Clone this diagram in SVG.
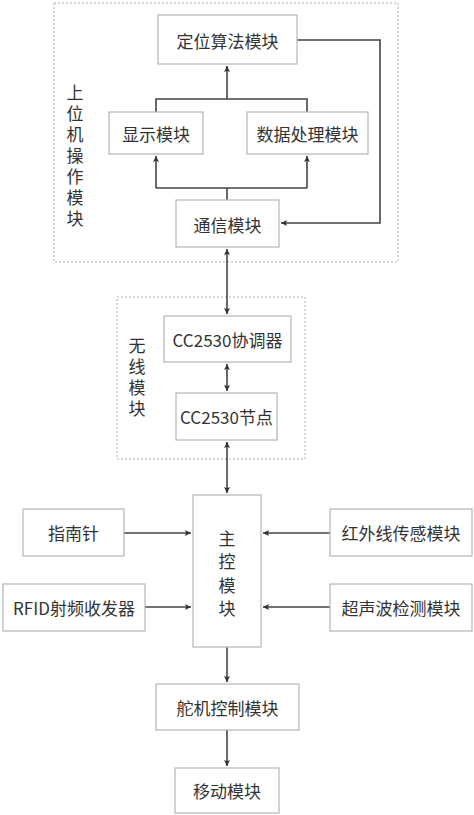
<svg xmlns="http://www.w3.org/2000/svg" width="474" height="815" viewBox="0 0 474 815">
<defs>
<style>
.box{fill:#fff;stroke:#b5b5b5;stroke-width:1.2}
.grp{fill:none;stroke:#b0b0b0;stroke-width:1;stroke-dasharray:2 2}
.ln{fill:none;stroke:#444;stroke-width:1.6}
text{font-family:"Noto Sans CJK SC","Liberation Sans",sans-serif;font-size:17px;fill:#333;text-anchor:middle;dominant-baseline:central}
.vt{writing-mode:vertical-rl;letter-spacing:4px}
</style>
<marker id="ah" viewBox="0 0 10 10" refX="10" refY="5" markerWidth="6" markerHeight="6" orient="auto-start-reverse" markerUnits="userSpaceOnUse">
<path d="M0,0 L10,5 L0,10 L2,5 z" fill="#333"/>
</marker>
</defs>
<rect width="474" height="815" fill="#fff"/>
<g id="group-upper">
<rect class="grp" x="54" y="3" width="344" height="259"/>
<text class="vt" x="75" y="158">上位机操作模块</text>
</g>
<g id="group-wireless">
<rect class="grp" x="117" y="297" width="188" height="162"/>
<text class="vt" x="137" y="379.5">无线模块</text>
</g>
<g id="connectors">
<path class="ln" d="M297,40 H380 V223 H281" marker-end="url(#ah)"/>
<path class="ln" d="M156,112 V99 H307 V112"/>
<path class="ln" d="M227,99 V66" marker-end="url(#ah)"/>
<path class="ln" d="M227,200 V188"/>
<path class="ln" d="M156,188 H307"/>
<path class="ln" d="M156,188 V156" marker-end="url(#ah)"/>
<path class="ln" d="M307,188 V156" marker-end="url(#ah)"/>
<path class="ln" d="M227,249 V314" marker-start="url(#ah)" marker-end="url(#ah)"/>
<path class="ln" d="M227,364 V391" marker-start="url(#ah)" marker-end="url(#ah)"/>
<path class="ln" d="M227,442 V493" marker-start="url(#ah)" marker-end="url(#ah)"/>
<path class="ln" d="M124,533 H191" marker-end="url(#ah)"/>
<path class="ln" d="M145,607 H191" marker-end="url(#ah)"/>
<path class="ln" d="M330,533 H263" marker-end="url(#ah)"/>
<path class="ln" d="M330,607 H263" marker-end="url(#ah)"/>
<path class="ln" d="M227,647 V682" marker-end="url(#ah)"/>
<path class="ln" d="M227,730 V766" marker-end="url(#ah)"/>
</g>
<g id="n-dingwei"><rect class="box" x="158" y="15" width="139" height="49"/><text x="227.5" y="40">定位算法模块</text></g>
<g id="n-xianshi"><rect class="box" x="109" y="112" width="94" height="42"/><text x="156" y="133">显示模块</text></g>
<g id="n-shuju"><rect class="box" x="247" y="112" width="121" height="42"/><text x="307.5" y="133">数据处理模块</text></g>
<g id="n-tongxin"><rect class="box" x="176" y="200" width="103" height="47"/><text x="227.5" y="224">通信模块</text></g>
<g id="n-xietiao"><rect class="box" x="164" y="316" width="127" height="46"/><text x="227.5" y="339">CC2530协调器</text></g>
<g id="n-jiedian"><rect class="box" x="176" y="393" width="101" height="47"/><text x="226.5" y="416.5">CC2530节点</text></g>
<g id="n-zhukong"><rect class="box" x="193" y="495" width="68" height="152"/>
<text x="227" y="537">主</text><text x="227" y="560.5">控</text><text x="227" y="584">模</text><text x="227" y="607.5">块</text></g>
<g id="n-zhinan"><rect class="box" x="23" y="509" width="101" height="47"/><text x="73.5" y="532.5">指南针</text></g>
<g id="n-rfid"><rect class="box" x="3" y="584" width="142" height="47"/><text x="74" y="607.5">RFID射频收发器</text></g>
<g id="n-hongwai"><rect class="box" x="330" y="509" width="142" height="47"/><text x="401" y="532.5">红外线传感模块</text></g>
<g id="n-chaosheng"><rect class="box" x="330" y="584" width="142" height="47"/><text x="401" y="607.5">超声波检测模块</text></g>
<g id="n-duoji"><rect class="box" x="156" y="684" width="143" height="46"/><text x="227.5" y="707">舵机控制模块</text></g>
<g id="n-yidong"><rect class="box" x="175" y="768" width="104" height="45"/><text x="227" y="790.5">移动模块</text></g>
</svg>
